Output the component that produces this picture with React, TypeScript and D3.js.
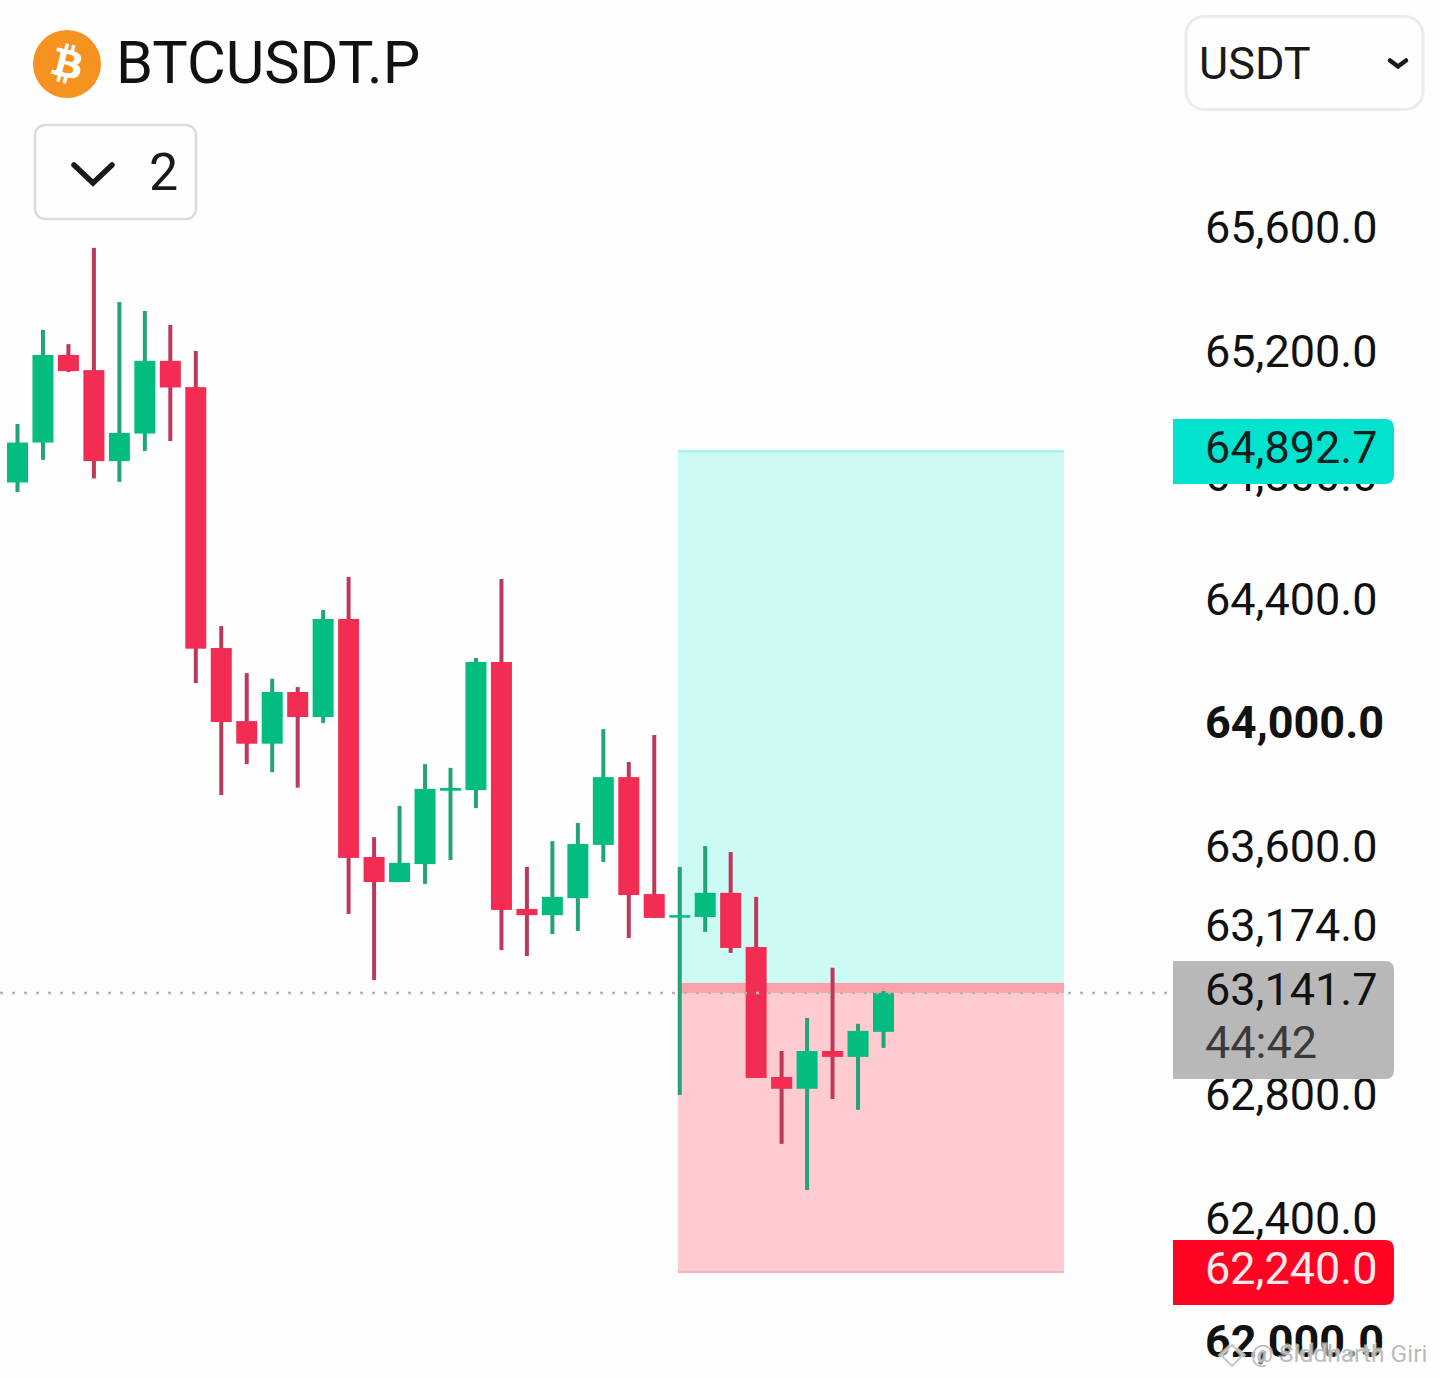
import React, { useRef, useEffect } from "react";
import * as d3 from "d3";

const width = 1440;
const height = 1378;

// candles
const opens = [64791, 64920, 65203, 65154, 64860, 64949, 65184, 65099, 64256, 64020, 63947, 64114, 64033, 64350, 63581, 63500, 63558, 63795, 63797, 64211, 63413, 63393, 63448, 63620, 63839, 63461, 63385, 63387, 63465, 63290, 62870, 62832, 62954, 62935, 63016];
const highs = [64980, 65284, 65238, 65549, 65374, 65345, 65300, 65216, 64327, 64175, 64157, 64130, 64379, 64486, 63645, 63746, 63881, 63869, 64224, 64479, 63549, 63632, 63691, 63994, 63888, 63975, 63549, 63616, 63597, 63452, 62954, 63061, 63223, 63042, 63148];
const lows = [64760, 64864, 65148, 64804, 64793, 64893, 64925, 64143, 63781, 63881, 63855, 63805, 64014, 63397, 63183, 63500, 63494, 63571, 63739, 63280, 63261, 63332, 63342, 63565, 63319, 63384, 62812, 63339, 63271, 62867, 62654, 62505, 62799, 62764, 62964];
const closes = [64920, 65203, 65151, 64860, 64951, 65184, 65098, 64254, 64017, 63947, 64114, 64033, 64350, 63578, 63500, 63562, 63801, 63804, 64211, 63410, 63393, 63452, 63623, 63839, 63458, 63384, 63393, 63465, 63287, 62867, 62832, 62954, 62935, 63019, 63142];

const priceTicks = [65600, 65200, 64800, 64400, 64000, 63600, 62800, 62400, 62000];
const boldTicks = [64000, 62000];

const targetPrice = 64892.7;
const entryPrice = 63174;
const stopPrice = 62240;
const lastPrice = 63141.7;
const countdown = "44:42";

const symbol = "BTCUSDT.P";
const currency = "USDT";
const indicatorCount = "2";
const watermark = "@ Siddharth Giri";

const FONT = "Roboto, sans-serif";
const UP = "#03bd80";
const DOWN = "#f22c52";
const UP_WICK = "#22a37a";
const DOWN_WICK = "#bb3a5c";

const BTC_PATH =
  "M46.1,27.441c0.638-4.258-2.605-6.547-7.038-8.074l1.438-5.768l-3.511-0.875l-1.4,5.616c-0.923-0.23-1.871-0.447-2.813-0.662l1.41-5.653l-3.509-0.875l-1.439,5.766c-0.764-0.174-1.514-0.346-2.242-0.527l0.004-0.018l-4.842-1.209l-0.934,3.75c0,0,2.605,0.597,2.55,0.634c1.422,0.355,1.679,1.296,1.636,2.042l-1.638,6.571c0.098,0.025,0.225,0.061,0.365,0.117c-0.117-0.029-0.242-0.061-0.371-0.092l-2.296,9.205c-0.174,0.432-0.615,1.08-1.609,0.834c0.035,0.051-2.552-0.637-2.552-0.637l-1.743,4.019l4.569,1.139c0.85,0.213,1.683,0.436,2.503,0.646l-1.453,5.834l3.507,0.875l1.439-5.772c0.958,0.26,1.888,0.5,2.798,0.726l-1.434,5.745l3.511,0.875l1.453-5.823c5.987,1.133,10.489,0.676,12.384-4.739c1.527-4.36-0.076-6.875-3.226-8.515c2.294-0.529,4.022-2.038,4.483-5.155z M38.08,38.69c-1.085,4.36-8.426,2.003-10.806,1.412l1.928-7.729c2.38,0.594,10.012,1.77,8.878,6.317z M39.166,27.378c-0.99,3.966-7.1,1.951-9.082,1.457l1.748-7.01c1.982,0.494,8.365,1.416,7.334,5.553z";

// rect with only the right corners rounded
function tagPath(x0: number, x1: number, y0: number, y1: number, r: number) {
  return `M${x0},${y0}H${x1 - r}Q${x1},${y0} ${x1},${y0 + r}V${y1 - r}Q${x1},${y1} ${x1 - r},${y1}H${x0}Z`;
}

export default function App() {
  const ref = useRef<SVGSVGElement | null>(null);

  useEffect(() => {
    const svg = d3.select(ref.current);
    svg.selectAll("*").remove();
    svg.append("rect").attr("width", width).attr("height", height).attr("fill", "#fefefe");

    const x = d3.scaleLinear().domain([0, opens.length - 1]).range([17.5, 883.5]);
    const y = d3.scaleLinear().domain([targetPrice, stopPrice]).range([451, 1272]);
    const fmt = d3.format(",.1f");

    // long position box
    const boxX = 678;
    const boxW = 386;
    svg.append("rect").attr("x", boxX).attr("y", y(targetPrice)).attr("width", boxW)
      .attr("height", y(entryPrice) - y(targetPrice)).attr("fill", "#ccfaf4");
    svg.append("rect").attr("x", boxX).attr("y", y(entryPrice)).attr("width", boxW)
      .attr("height", y(stopPrice) - y(entryPrice)).attr("fill", "#fecbd1");
    svg.append("rect").attr("x", boxX).attr("y", y(targetPrice) - 1).attr("width", boxW).attr("height", 2.5).attr("fill", "#a8f3e8");
    svg.append("rect").attr("x", boxX).attr("y", y(stopPrice) - 1).attr("width", boxW).attr("height", 2).attr("fill", "#fbb4bd");
    svg.append("rect").attr("x", boxX + 2).attr("y", y(entryPrice)).attr("width", boxW - 2)
      .attr("height", y(lastPrice) - y(entryPrice)).attr("fill", "#fda2aa");

    // candles
    const idx = d3.range(opens.length);
    const bodyW = 21;
    const wickW = 4;
    svg.append("g").selectAll("rect").data(idx).enter().append("rect")
      .attr("x", (i) => x(i) - wickW / 2)
      .attr("y", (i) => y(highs[i]))
      .attr("width", wickW)
      .attr("height", (i) => y(lows[i]) - y(highs[i]))
      .attr("fill", (i) => (closes[i] >= opens[i] ? UP_WICK : DOWN_WICK));
    svg.append("g").selectAll("rect").data(idx).enter().append("rect")
      .attr("x", (i) => x(i) - bodyW / 2)
      .attr("y", (i) => y(Math.max(opens[i], closes[i])))
      .attr("width", bodyW)
      .attr("height", (i) => Math.abs(y(opens[i]) - y(closes[i])))
      .attr("fill", (i) => (closes[i] >= opens[i] ? UP : DOWN));

    // last price dotted line
    svg.append("line").attr("x1", 0).attr("x2", 1170).attr("y1", y(lastPrice)).attr("y2", y(lastPrice))
      .attr("stroke", "#b4b4b4").attr("stroke-width", 2.5).attr("stroke-dasharray", "3 9");

    // price axis
    const axis = svg.append("g").attr("transform", "translate(1205,-3.7)")
      .call(d3.axisRight(y).tickValues(priceTicks).tickSize(0).tickPadding(0).tickFormat((d) => fmt(d as number)));
    axis.select(".domain").remove();
    axis.selectAll("text")
      .attr("font-family", FONT)
      .attr("font-size", 45)
      .attr("fill", "#111")
      .attr("font-weight", (d) => (boldTicks.includes(d as number) ? 700 : 400));

    const label = (txt: string, tx: number, ty: number, fill: string, size = 45) =>
      svg.append("text").attr("x", tx).attr("y", ty).attr("font-family", FONT).attr("font-size", size)
        .attr("fill", fill).text(txt);

    // entry label sits pushed up above the last price tag
    label(fmt(entryPrice), 1205, y(entryPrice) - 42, "#111");

    // tags
    const tagL = 1173;
    const tagR = 1394;
    svg.append("path").attr("d", tagPath(tagL, tagR, y(targetPrice) - 32, y(targetPrice) + 33, 9)).attr("fill", "#02e3cf");
    label(fmt(targetPrice), 1205, y(targetPrice) + 12, "#0d1f1e");
    svg.append("path").attr("d", tagPath(tagL, tagR, y(lastPrice) - 32, y(lastPrice) + 86, 9)).attr("fill", "#b8b8b8");
    label(fmt(lastPrice), 1205, y(lastPrice) + 12, "#111");
    label(countdown, 1205, y(lastPrice) + 65, "#3a3a3a");
    svg.append("path").attr("d", tagPath(tagL, tagR, y(stopPrice) - 32, y(stopPrice) + 33, 9)).attr("fill", "#fe0322");
    label(fmt(stopPrice), 1205, y(stopPrice) + 12, "#ffe9ec");

    // header
    svg.append("circle").attr("cx", 67).attr("cy", 64).attr("r", 34).attr("fill", "#f59220");
    svg.append("path").attr("d", BTC_PATH).attr("transform", "translate(35,32)")
      .attr("fill", "#fff").attr("fill-rule", "evenodd");
    label(symbol, 116, 83, "#111", 59.5);

    svg.append("rect").attr("x", 35).attr("y", 125).attr("width", 161).attr("height", 94).attr("rx", 10)
      .attr("fill", "none").attr("stroke", "#dcdcdc").attr("stroke-width", 2.5);
    svg.append("path").attr("d", "M74,165L93,183L112,165").attr("fill", "none").attr("stroke", "#1a1a1a")
      .attr("stroke-width", 5.5).attr("stroke-linecap", "round");
    label(indicatorCount, 149, 190, "#1a1a1a", 52);

    svg.append("rect").attr("x", 1186).attr("y", 16.5).attr("width", 237).attr("height", 93).attr("rx", 18)
      .attr("fill", "none").attr("stroke", "#ececec").attr("stroke-width", 3);
    label(currency, 1199, 79, "#1a1a1a", 45);
    svg.append("path").attr("d", "M1390,60.5L1398,66.5L1406,60.5").attr("fill", "none").attr("stroke", "#1a1a1a")
      .attr("stroke-width", 4.5).attr("stroke-linecap", "round");

    // watermark over the bottom tick
    svg.append("path").attr("d", "M1232,1345L1243,1355L1232,1366L1221,1355Z").attr("fill", "none")
      .attr("stroke", "#fff").attr("stroke-opacity", 0.6).attr("stroke-width", 5);
    svg.append("path").attr("d", "M1232,1345L1243,1355L1232,1366L1221,1355Z").attr("fill", "none")
      .attr("stroke", "#c8c8c8").attr("stroke-width", 2);
    svg.append("text").attr("x", 1251).attr("y", 1362).attr("font-family", FONT).attr("font-size", 24.5)
      .attr("fill", "#bcbcbc").attr("stroke", "#fff").attr("stroke-opacity", 0.6)
      .attr("stroke-width", 3).attr("paint-order", "stroke").text(watermark);
  }, []);

  return (
    <div style={{ position: "absolute", left: 0, top: 0 }}>
      <svg ref={ref} width={width} height={height} style={{ display: "block" }} />
    </div>
  );
}
